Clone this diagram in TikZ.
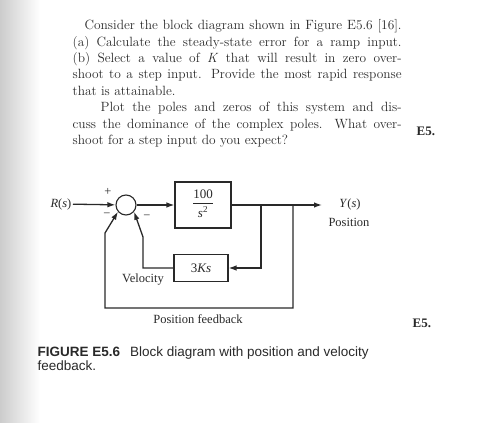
\documentclass[tikz,border=0pt]{standalone}
\usepackage{fontspec}
\newfontfamily\capfont{Liberation Sans}
\newfontfamily\figfont{Liberation Serif}
\usetikzlibrary{arrows.meta}
\definecolor{ink}{rgb}{0.16,0.16,0.16}

\begin{document}
\begin{tikzpicture}[x=1pt,y=-1pt,line width=1.3pt,color=ink,>={Latex[length=8pt,width=5.5pt]}]
      \useasboundingbox (0,0) rectangle (480,423);
      \shade[left color=black!20,right color=white,draw=none] (0,0) rectangle (40,423);
      \tikzstyle{block}=[draw,line width=1.1pt,inner sep=0pt,font=\figfont\fontsize{13}{15}\selectfont]
      \tikzstyle{label}=[font=\figfont\fontsize{12.5}{14}\selectfont,inner sep=1pt]
      % problem statement
      \node[anchor=north west,text width=329pt,align=justify,inner sep=0pt,
            font=\fontsize{13.4}{16.4}\selectfont] (prob) at (72,19) {%
        \hspace*{12pt}Consider the block diagram shown in Figure E5.6 [16].\linebreak
        (a) Calculate the steady-state error for a ramp input.\linebreak
        (b) Select a value of \textit{K} that will result in zero over-\linebreak
        shoot to a step input. Provide the most rapid response\linebreak
        that is attainable.\par
        \hspace*{28pt}Plot the poles and zeros of this system and dis-\linebreak
        cuss the dominance of the complex poles. What over-\linebreak
        shoot for a step input do you expect?};
      % blocks
      \node[circle,draw,line width=1.1pt,minimum size=20pt,inner sep=0pt] (sum) at (126,205) {};
      \node[block,minimum width=56pt,minimum height=46pt] (plant) at (203,205)
            {\setlength{\arrayrulewidth}{0.8pt}\begin{tabular}{@{}c@{}}100\\\hline\rule{0pt}{13pt}\textit{s}\textsuperscript{2}\end{tabular}};
      \node[block,minimum width=54pt,minimum height=27pt] (velo) at (201,268) {3\textit{Ks}};
      \node[label,anchor=east] (r) at (73,204) {\textit{R}(\textit{s})};
      \coordinate (b_1) at (261,205);
      \coordinate (b_2) at (293,205);
      \coordinate (y_end) at (322,205);
      \coordinate (v_1) at (143,268);
      \coordinate (v_2) at (143,237);
      \coordinate (p_1) at (105,308);
      \coordinate (p_2) at (105,233);
      % signals
      \draw[->] (r) -- (sum);
      \draw[->] (sum) -- (plant);
      \draw[->] (plant) -- (y_end);
      \draw[->] (b_1) |- (velo);
      \draw[->] (velo) -- (v_1) -- (v_2) -- (sum.-40);
      \draw[->] (b_2) |- (p_1) -- (p_2) -- (sum.-140);
      % labels
      \node[label] (plus) at (108,192) {+};
      \node[label] (minus_1) at (107,215) {−};
      \node[label] (minus_2) at (147,217) {−};
      \node[label] (ys) at (350,204) {\textit{Y}(\textit{s})};
      \node[label] (pos) at (349,222) {Position};
      \node[label] (vel) at (143,280) {Velocity};
      \node[label] (posfb) at (198,319) {Position feedback};
      % caption
      \node[anchor=north west,align=left,inner sep=0pt,
            font=\capfont\fontsize{13.5}{14.5}\selectfont] (cap) at (37,346)
            {\textbf{FIGURE E5.6}\hspace{10pt}Block diagram with position and velocity\\feedback.};
      \node[font=\figfont\bfseries\fontsize{13}{15}\selectfont,anchor=west,inner sep=0pt] (e_1) at (416,131) {E5.};
      \node[font=\figfont\bfseries\fontsize{13}{15}\selectfont,anchor=west,inner sep=0pt] (e_2) at (412,323) {E5.};
    \end{tikzpicture}
\end{document}
